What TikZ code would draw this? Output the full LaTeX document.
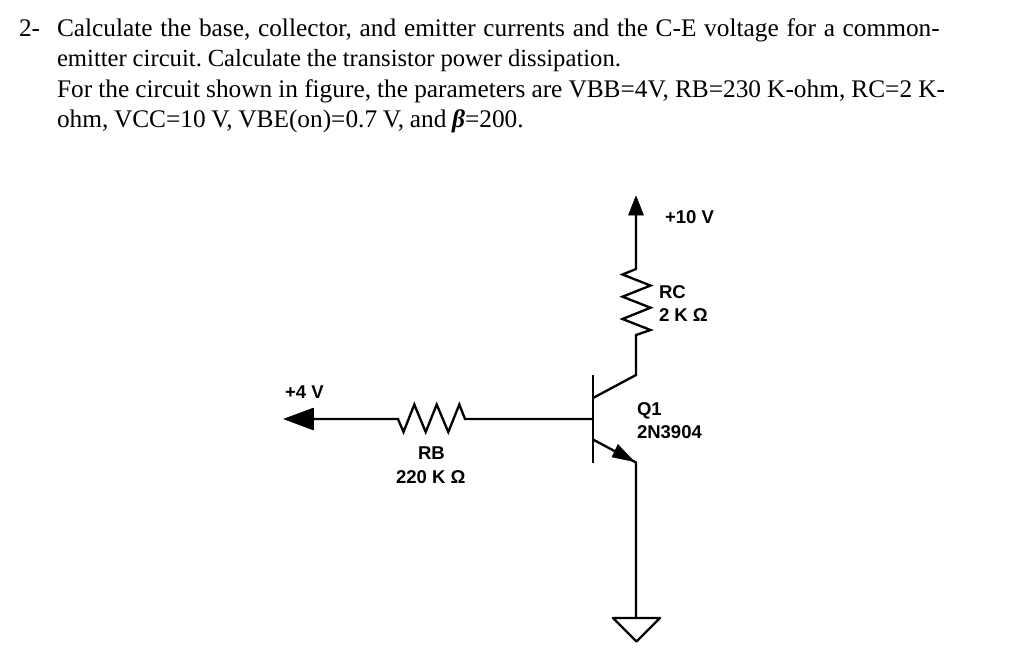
\documentclass[tikz,border=0pt]{standalone}
\usepackage{fontspec}
\setmainfont{Liberation Serif}
\setsansfont{Liberation Sans}
\tikzset{
  wire/.style={line width=1.75pt,line join=miter,line cap=butt},
  solidtip/.style={fill=black,draw=black,line width=0.4pt,line join=round},
  bodytext/.style={anchor=base west,inner sep=0pt,outer sep=0pt,font=\fontsize{19pt}{20pt}\selectfont\frenchspacing},
  partlabel/.style={anchor=base west,inner sep=0pt,outer sep=0pt,font=\fontsize{13.9pt}{16pt}\selectfont\sffamily\bfseries},
  conn/.style={inner sep=0pt,outer sep=0pt,minimum size=0pt}
}
\newcommand{\fitline}[2]{\hbox to #1{\spaceskip=0.25em plus 1em minus 0.1em #2}}
\begin{document}
\begin{tikzpicture}[x=0.75pt,y=-0.75pt]
\useasboundingbox[fill=white] (0,0) rectangle (1024,654);
% text
\node[bodytext] (num) at (19,36) {2-};
\node[bodytext] (l1) at (57,36) {\fitline{662pt}{Calculate the base, collector, and emitter currents and the C-E voltage for a common-}};
\node[bodytext,font=\fontsize{18.5pt}{20pt}\selectfont\frenchspacing] (l2) at (57,66) {\fitline{423pt}{emitter circuit. Calculate the transistor power dissipation.}};
\node[bodytext] (l3) at (57,97) {\fitline{666pt}{For the circuit shown in figure, the parameters are VBB=4V, RB=230 K-ohm, RC=2 K-}};
\node[bodytext] (l4) at (57,127.5) {\fitline{350pt}{ohm, VCC=10 V, VBE(on)=0.7 V, and \textbf{\textit{β}}=200.}};
% labels
\node[partlabel] (vcc) at (665,223) {+10 V};
\node[partlabel] (rcname) at (659,298) {RC};
\node[partlabel] (rcval) at (659,321) {2 K Ω};
\node[partlabel] (vbb) at (285,398) {+4 V};
\node[partlabel] (rbname) at (418,459) {RB};
\node[partlabel] (rbval) at (396,483) {220 K Ω};
\node[partlabel] (qname) at (637,415) {Q1};
\node[partlabel] (qval) at (637,438) {2N3904};
% junction points
\coordinate (vcctip) at (636,196);
\coordinate (vccbase) at (636,215);
\coordinate (rctop) at (636,269);
\coordinate (rcbot) at (636,335);
\coordinate (coll) at (636,375);
\coordinate (bc) at (593,398);
\coordinate (bbtop) at (593,374.5);
\coordinate (bbbot) at (593,463);
\coordinate (bb) at (593,419);
\coordinate (be) at (593,439.5);
\coordinate (emit) at (636,462.5);
\coordinate (gnd) at (636,618);
\coordinate (vbbtip) at (284,419);
\coordinate (vbbbase) at (313,419);
\coordinate (rbl) at (398,419);
\coordinate (rbr) at (465,419);
% VCC arrow and RC
\draw[wire] (vccbase) -- (rctop) -- (622.5,274.5) -- (650.5,285.5) -- (622.5,296.7) -- (650.5,307.7) -- (622.5,319) -- (650.5,330) -- (rcbot) -- (coll) -- (bc);
\fill[solidtip] (vcctip) -- (643.5,215) -- (628.5,215) -- cycle;
% transistor
\draw[wire] (bbtop) -- (bbbot);
\draw[wire] (be) -- (emit) -- (gnd);
\fill[solidtip] (634,461.5) -- (612,457) -- (618,444.5) -- cycle;
% RB and base
\draw[wire] (vbbbase) -- (rbl) -- (403.5,432) -- (414.3,404.5) -- (425.7,432) -- (436.7,404.5) -- (448.3,432) -- (459.3,404.5) -- (rbr) -- (bb);
\fill[solidtip] (vbbtip) -- (313.5,408) -- (313.5,430) -- cycle;
% ground
\draw[wire,line join=round] (gnd) -- ++(-23,0) -- ++(23.5,23.5) -- ++(23.5,-23.5) -- cycle;
\end{tikzpicture}
\end{document}
